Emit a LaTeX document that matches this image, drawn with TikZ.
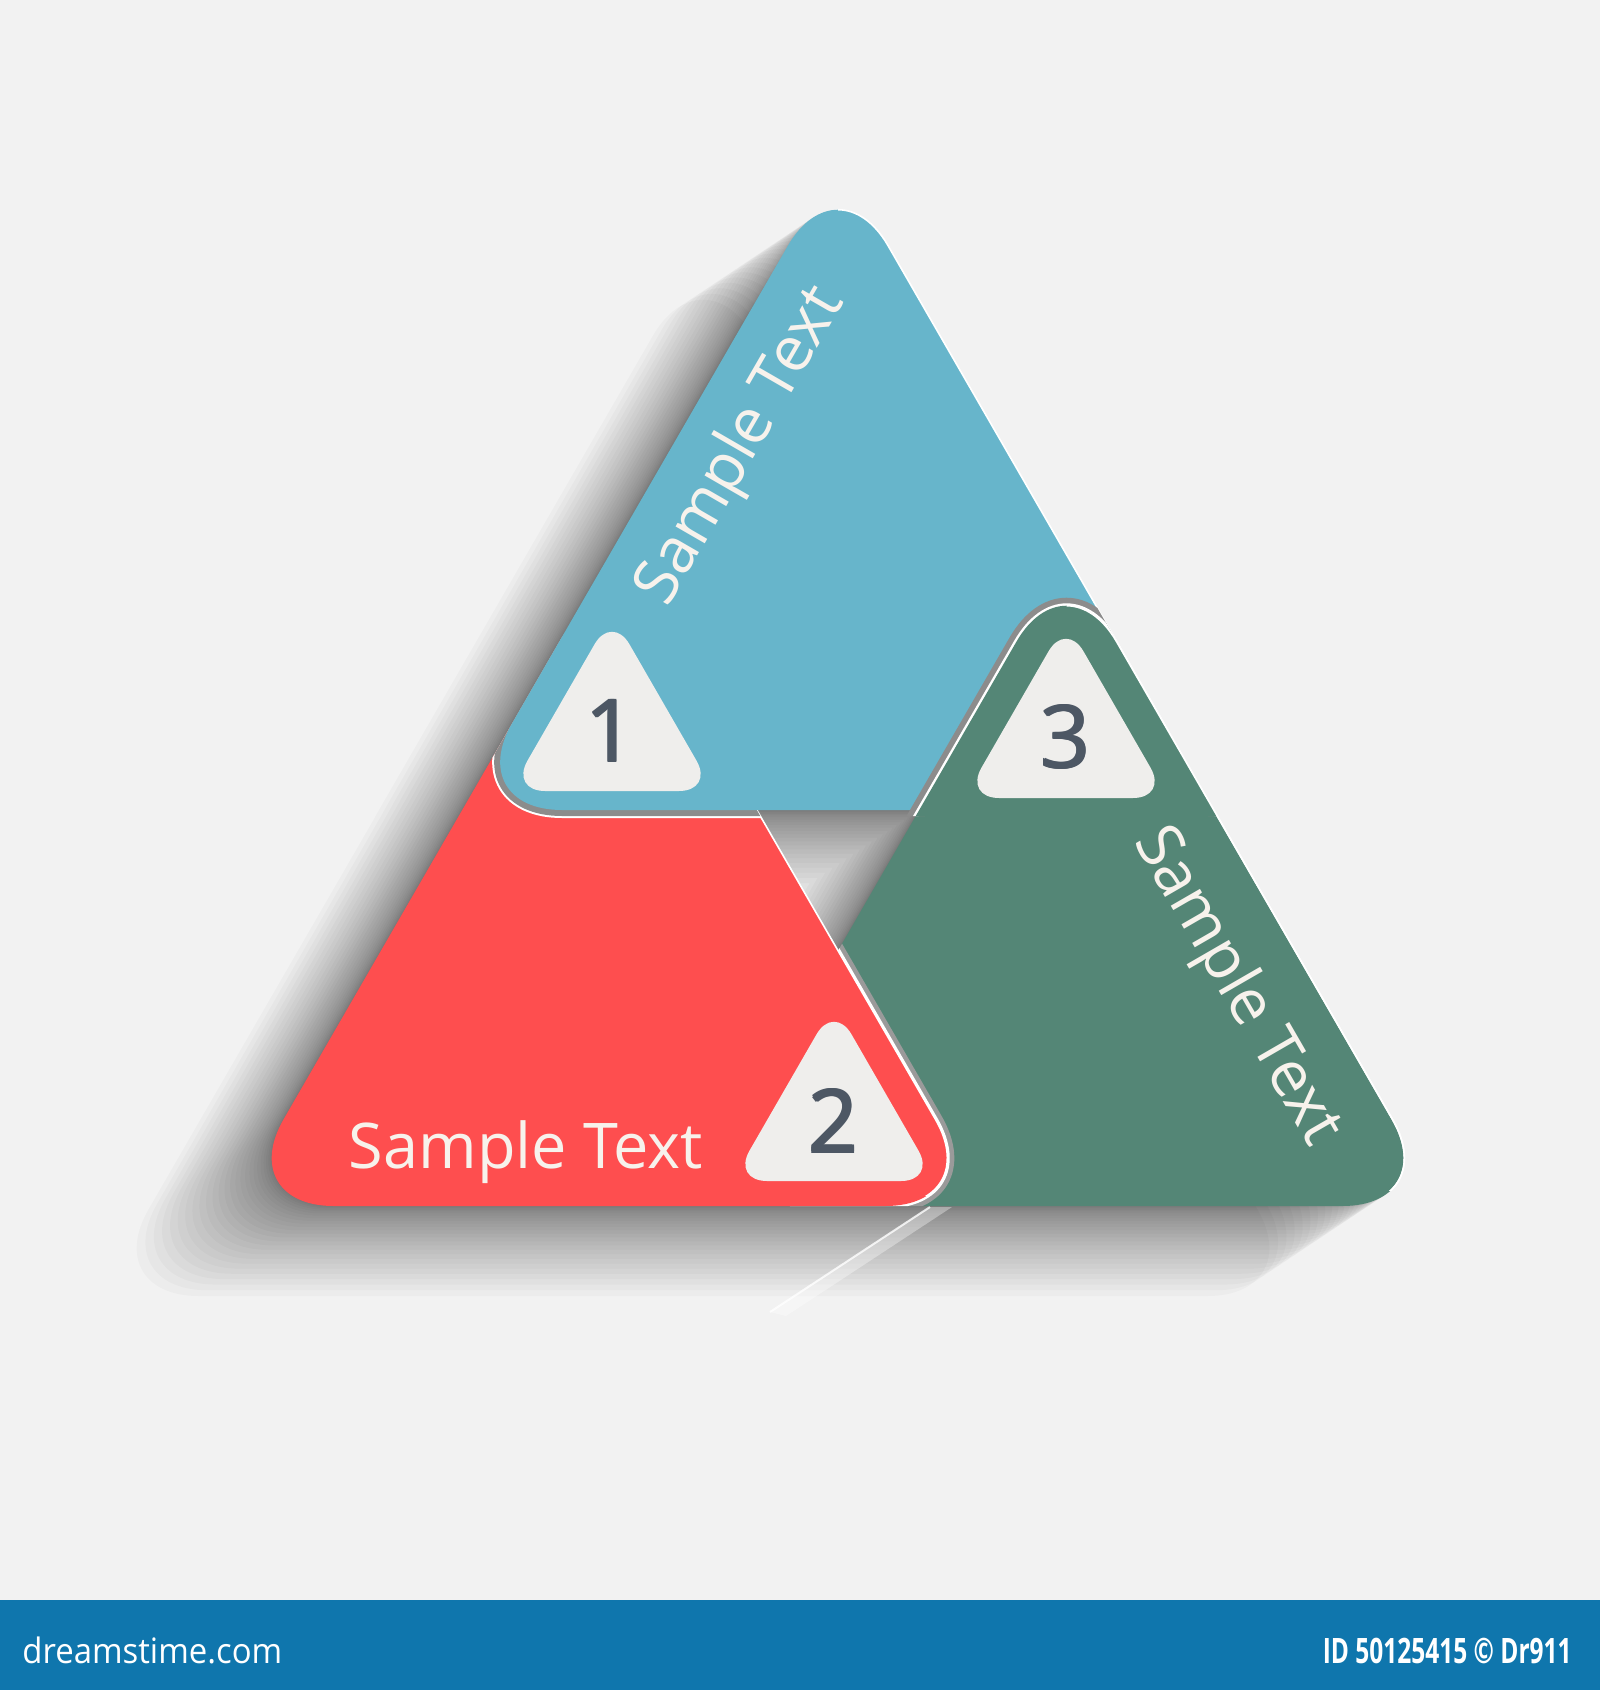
\documentclass[tikz,border=0pt]{standalone}
\usepackage{fontspec}
\setmainfont{Open Sans}
\newfontfamily\numfont{Open Sans}
\newcommand\heavydigit[1]{%
  \makebox[0pt][l]{#1}%
  \makebox[0pt][l]{\kern1pt#1}%
  \makebox[0pt][l]{\kern0.5pt\raisebox{0.35pt}{#1}}%
  \makebox[0pt][l]{\raisebox{0.7pt}{#1}}%
  \makebox[0pt][l]{\kern1pt\raisebox{0.7pt}{#1}}%
  \phantom{#1}\kern1pt}
\definecolor{bg}{HTML}{F2F2F2}
\definecolor{tblue}{HTML}{67B5CB}
\definecolor{tred}{HTML}{FE4E4F}
\definecolor{tgreen}{HTML}{548676}
\definecolor{badgecol}{HTML}{EFEEEC}
\definecolor{digitcol}{HTML}{4D5764}
\definecolor{txtcol}{HTML}{F7F2EC}
\definecolor{barcol}{HTML}{0F76AD}
\definecolor{bandA}{HTML}{8C8C8C}
\definecolor{bandB}{HTML}{9A9A9A}
\begin{document}
\begin{tikzpicture}[x=0.5pt,y=-0.5pt,
  tri/.style 2 args={insert path={({#1},{#2+651}) -- ({#1+376},{#2+651}) -- ({#1},{#2}) -- ({#1-376},{#2+651}) -- cycle}},
  badgetri/.style 2 args={insert path={({#1},{#2+177}) -- ({#1+102},{#2+177}) -- ({#1},{#2}) -- ({#1-102},{#2+177}) -- cycle}},
  blueT/.style={tri={838}{159}},
  redT/.style={tri={609.5}{555}},
  greenT/.style={tri={1066.5}{555}},
  piece/.style={rounded corners=50pt},
  edgelight/.style={rounded corners=50pt, draw=white, line width=0.8pt},
  longshadow/.style={black, opacity=0.022, rounded corners=50pt},
  band/.style={rounded corners=50pt},
  badge/.style={fill=badgecol, rounded corners=17.5pt},
  stxt/.style={text=txtcol, font=\fontsize{31.5pt}{36pt}\selectfont, inner sep=0pt},
  num/.style={text=digitcol, font=\fontsize{43.5pt}{50pt}\selectfont\numfont, inner sep=0pt}
]
\useasboundingbox (0,0) rectangle (1600,1690);
\fill[bg] (0,0) rectangle (1600,1690);

% long soft shadow of the whole group, cast to the lower left
\foreach \i in {1,...,26} {
  \pgfmathsetmacro\tt{(\i/26)^1.7}
  \fill[longshadow, shift={(-135*\tt,90*\tt)}, blueT, redT, greenT];
}

% light streak in the shadow, below the pieces
\coordinate (s1) at (930,1207);
\coordinate (s2) at (770,1312);
\fill[white, opacity=0.35] (930,1207) -- (952,1207) -- (786,1316) -- (770,1312) -- cycle;
\draw[white, opacity=0.8, line width=1pt] (s1) -- (s2);

% green piece (lowest)
\fill[tgreen, piece, greenT];
\begin{scope}
  \clip (1066.5,0) rectangle (1600,1190);
  \draw[edgelight, greenT];
\end{scope}

% red piece, over green, with its cut line
\begin{scope}
  \clip[rounded corners=50pt, greenT];
  \draw[band, bandB, line width=7pt, redT];
  \draw[band, white, line width=2.4pt, redT];
\end{scope}
\fill[tred, piece, redT];
\begin{scope}
  \clip (609.5,0) rectangle (1100,1195);
  \draw[edgelight, redT];
\end{scope}

% blue piece, over red, with its cut line
\begin{scope}
  \clip[rounded corners=50pt, redT];
  \draw[band, white, line width=8pt, blueT];
  \draw[band, bandA, line width=6pt, blueT];
\end{scope}
\fill[tblue, piece, blueT];
\begin{scope}
  \clip (838,0) rectangle (1600,760);
  \draw[edgelight, blueT];
\end{scope}

% green again, over blue
\begin{scope}
  \clip (838,159) -- (1217.5,816) -- (450,816) -- cycle;
  \draw[band, bandA, line width=8pt, greenT];
  \draw[band, white, line width=2.4pt, greenT];
  \fill[tgreen, piece, greenT];
\end{scope}
\begin{scope}
  \clip (1066.5,0) rectangle (1600,1190);
  \draw[edgelight, greenT];
\end{scope}

% badges
\fill[badge, badgetri={612}{614}];
\fill[badge, badgetri={834}{1004}];
\fill[badge, badgetri={1066}{621}];
\node[num] (n1) at (610,731) {\heavydigit{1}};
\node[num] (n2) at (833,1121) {\heavydigit{2}};
\node[num] (n3) at (1065,737) {\heavydigit{3}};

% texts
\node[stxt, anchor=base, rotate=60] (t1) at (756,455) {Sample Text};
\node[stxt, anchor=base] (t2) at (526,1168) {Sample Text};
\node[stxt, anchor=base, rotate=-60] (t3) at (1222,995) {Sample Text};

% bottom bar
\fill[barcol] (0,1600) rectangle (1600,1690);
\node[anchor=base west, text=white, inner sep=0pt, font=\fontsize{17.5pt}{20pt}\selectfont] (site) at (22,1663) {\scalebox{0.94}[1]{dreamstime.com}};
\node[anchor=base east, text=white, inner sep=0pt, font=\fontsize{17.5pt}{20pt}\selectfont\bfseries] (imgid) at (1572,1663) {\scalebox{0.70}[1]{ID 50125415 © Dr911}};
\end{tikzpicture}
\end{document}
